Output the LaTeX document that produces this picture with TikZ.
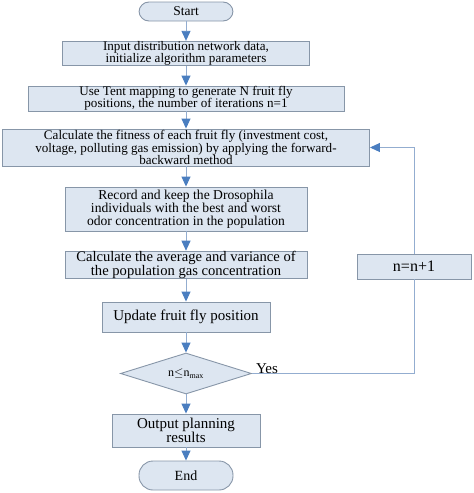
\documentclass[tikz,border=0pt]{standalone}
\usepackage{fontspec}
\setmainfont{Liberation Serif}
\usetikzlibrary{arrows.meta, shapes.geometric}

\definecolor{boxfill}{HTML}{DDE6F1}
\definecolor{boxline}{HTML}{8796A8}
\definecolor{flowline}{HTML}{93ADD0}
\definecolor{flowhead}{HTML}{4A7EC0}

\tikzset{
	txt/.style = {font = \fontsize{#1}{12.5}\selectfont},
	procbox/.style = {draw = boxline, fill = boxfill, line width = 0.9pt, inner sep = 0pt, align = center, txt = 13},
	termbox/.style = {procbox, rounded corners = 10pt},
	decbox/.style = {draw = boxline, fill = boxfill, line width = 0.9pt, diamond, aspect = 3.2, inner sep = 0pt, txt = 12},
	flow/.style = {draw = flowline, line width = 0.9pt, -{Triangle[length = 10pt, width = 9pt, color = flowhead, fill = flowhead]}},
	flowplain/.style = {draw = flowline, line width = 0.9pt}
}

\begin{document}
\begin{tikzpicture}[x = 1pt, y = -1pt]
	\def\xc{186};
	\def\xloop{414};
	\useasboundingbox (0,0) rectangle (474,493);

	\node [termbox, minimum width = 94pt, minimum height = 19pt, txt = 13.5] (start) at (\xc,11.5) {Start};
	\node [procbox, minimum width = 247pt, minimum height = 21pt, txt = 13.1] (input) at (\xc,53.5) {Input distribution network data,\\ initialize algorithm parameters};
	\node [procbox, minimum width = 316pt, minimum height = 25pt, txt = 13.1] (tent) at (\xc,98.5) {Use Tent mapping to generate N fruit fly\\ positions, the number of iterations n=1};
	\node [procbox, minimum width = 367pt, minimum height = 37pt, txt = 13.1] (fitness) at (\xc,147.5) {Calculate the fitness of each fruit fly (investment cost,\\ voltage, polluting gas emission) by applying the forward-\\ backward method};
	\node [procbox, minimum width = 242pt, minimum height = 44pt, font = \fontsize{13.6}{13}\selectfont] (record) at (\xc,209) {Record and keep the Drosophila\\ individuals with the best and worst\\ odor concentration in the population};
	\node [procbox, minimum width = 242pt, minimum height = 26pt, font = \fontsize{14.6}{13}\selectfont] (average) at (\xc,265) {Calculate the average and variance of\\ the population gas concentration};
	\node [procbox, minimum width = 168pt, minimum height = 30pt, txt = 15] (update) at (\xc,317) {Update fruit fly position};
	\node [decbox, minimum width = 131pt, minimum height = 41pt] (check) at (\xc,373.5) {n${\le}$n\textsubscript{max}};
	\node [procbox, minimum width = 148pt, minimum height = 33pt, font = \fontsize{15}{13}\selectfont] (output) at (\xc,430.5) {Output planning\\ results};
	\node [termbox, minimum width = 94pt, minimum height = 29pt, rounded corners = 14pt, txt = 14] (end) at (\xc,475.5) {End};
	\node [procbox, minimum width = 114pt, minimum height = 25pt, txt = 16] (incr) at (\xloop,266.5) {n=n+1};

	% main chain
	\draw [flow] (start) -- (input);
	\draw [flow] (input) -- (tent);
	\draw [flow] (tent) -- (fitness);
	\draw [flow] (fitness) -- (record);
	\draw [flow] (record) -- (average);
	\draw [flow] (average) -- (update);
	\draw [flow] (update) -- (check);
	\draw [flow] (check) -- (output);
	\draw [flow] (output) -- (end);

	% loop back
	\draw [flowplain] (check.east) -| (incr.south);
	\draw [flow] (incr.north) |- (fitness.east);
	\node [txt = 15, anchor = south west, inner sep = 1pt] (yes) at ([xshift = 3pt, yshift = -1pt]check.east) {Yes};
\end{tikzpicture}
\end{document}
